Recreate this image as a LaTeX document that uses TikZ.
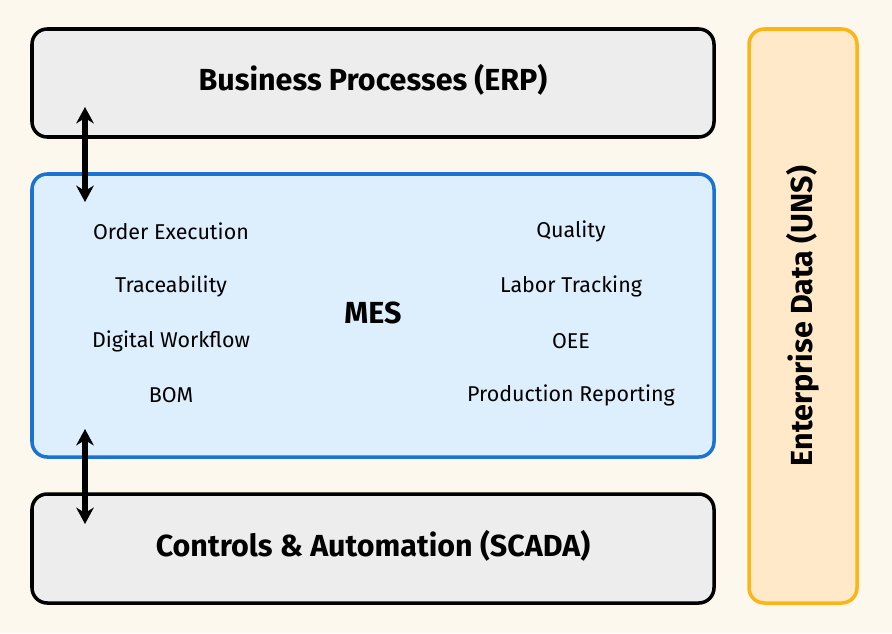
\documentclass[tikz,border=0pt]{standalone}
\usepackage{fontspec}
\setmainfont{Fira Sans}
\usetikzlibrary{arrows.meta}
\definecolor{bgcol}{HTML}{FCF8EE}
\definecolor{layerfill}{HTML}{EDEDED}
\definecolor{mesfill}{HTML}{DDEEFD}
\definecolor{mesdraw}{HTML}{1A73D0}
\definecolor{unsfill}{HTML}{FFE9C8}
\definecolor{unsdraw}{HTML}{FBB517}
\begin{document}
\begin{tikzpicture}[
    x=0.03cm, y=-0.03cm,
    layer/.style={draw=black, line width=3pt, fill=layerfill, rounded corners=13pt},
    title/.style={font=\fontsize{26}{30}\selectfont\bfseries},
    item/.style={font=\fontsize{18.3}{22}\selectfont},
    link/.style={line width=5pt, {Stealth[length=14pt,width=15pt]}-{Stealth[length=14pt,width=15pt]}}
]
    % Background
    \fill[bgcol] (0,0) rectangle (892,633);
    \useasboundingbox (0,0) rectangle (892,633);

    % Layers
    \draw[layer] (32,29) rectangle (714,137);
    \node[title] (erp) at (373,80) {Business Processes (ERP)};
    \draw[layer, draw=mesdraw, fill=mesfill] (32,174) rectangle (714,457);
    \node[title] (mes) at (373,313) {MES};
    \draw[layer] (32,494) rectangle (714,603);
    \node[title] (scada) at (373,546) {Controls \& Automation (SCADA)};
    \draw[layer, draw=unsdraw, fill=unsfill] (749,29) rectangle (857,603);
    \node[title, rotate=90] (uns) at (803,316) {Enterprise Data (UNS)};

    % MES functions
    \node[item] (order) at (171,231) {Order Execution};
    \node[item] (trace) at (171,286) {Traceability};
    \node[item] (workflow) at (171,341) {Digital Workflow};
    \node[item] (bom) at (171,395) {BOM};
    \node[item] (quality) at (571,231) {Quality};
    \node[item] (labor) at (571,286) {Labor Tracking};
    \node[item] (oee) at (571,341) {OEE};
    \node[item] (report) at (571,395) {Production Reporting};

    % Connections
    \coordinate (a1) at (85,107);
    \coordinate (a2) at (85,202);
    \coordinate (b1) at (85,429);
    \coordinate (b2) at (85,524);
    \draw[link] (a1) -- (a2);
    \draw[link] (b1) -- (b2);
\end{tikzpicture}
\end{document}
